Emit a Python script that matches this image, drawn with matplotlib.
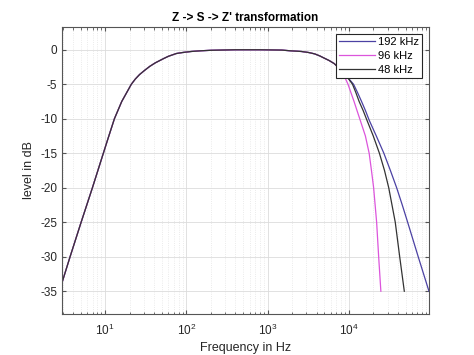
import numpy as np
import matplotlib
matplotlib.use("Agg")
import matplotlib.pyplot as plt
from matplotlib.ticker import LogLocator, NullFormatter

plt.rcParams['font.family'] = ['Liberation Sans', 'DejaVu Sans']
plt.rcParams['axes.unicode_minus'] = False

# shared part of the response (identical for all rates)
f_common = [2.9, 3.7, 5.06, 6.97, 9.5, 11.1, 13.0, 16.0, 21.0, 23.5, 26.5,
            30.5, 35.5, 41.4, 52, 60, 75, 90, 115, 150, 200, 400, 800, 1500,
            1900, 2600, 3200, 3800, 4400, 4950, 5700, 6600, 7640]
db_common = [-34.0, -30, -25, -20, -15, -12.5, -10, -7.5, -5, -4.25, -3.6,
             -3.0, -2.4, -1.9, -1.3, -0.95, -0.55, -0.4, -0.25, -0.15, -0.08,
             0, 0, -0.05, -0.15, -0.25, -0.4, -0.6, -0.9, -1.2, -1.55, -2.0,
             -2.7]

# high-frequency rolloff per sample rate
f_192 = [8750, 10000, 11430, 12800, 14350, 16000, 17800, 21800, 27000, 32500,
         38800, 45500, 53000, 71500, 97000]
db_192 = [-3.5, -4.2, -5, -6.2, -7.5, -8.8, -10.2, -12.5, -15, -17.5, -20,
          -22.5, -25, -30, -35]
f_96 = [8550, 9100, 9770, 10600, 11600, 12600, 13800, 16000, 17800, 19000,
        20200, 22000, 23300, 24800]
db_96 = [-3.5, -4.2, -5, -6.2, -7.5, -8.8, -10.2, -12.5, -15, -17.5, -20,
         -25, -30, -35]
f_48 = [8750, 9900, 11100, 12200, 13400, 15000, 16700, 20000, 23800, 27500,
        31000, 37300, 42300, 48200]
db_48 = [-3.5, -4.2, -5, -6.2, -7.5, -8.8, -10.2, -12.5, -15, -17.5, -20,
         -25, -30, -35]

labels = ["192 kHz", "96 kHz", "48 kHz"]
colors = ["#4b41a3", "#dc55dc", "#333333"]

fig = plt.figure(figsize=(4.74, 3.55), dpi=100)
ax = fig.add_axes([0.131, 0.1155, 0.774, 0.8085])

for f, db, lab, c in zip([f_192, f_96, f_48], [db_192, db_96, db_48], labels, colors):
    ax.semilogx(f_common + f, db_common + db, color=c, lw=0.9, label=lab)

ax.set_xlim(2.95, 97000)
ax.set_ylim(-38.3, 3.3)
ax.set_yticks(np.arange(-35, 1, 5))
ax.xaxis.set_major_locator(LogLocator(base=10, numticks=10))
ax.xaxis.set_minor_locator(LogLocator(base=10, subs=np.arange(2, 10), numticks=20))
ax.xaxis.set_minor_formatter(NullFormatter())

ax.grid(True, which='major', color='#dcdcdc', lw=0.6)
ax.grid(True, which='minor', axis='x', color='#e4e4e4', lw=0.6, ls=':')
ax.set_axisbelow(True)

for s in ax.spines.values():
    s.set_color('#555555')
    s.set_linewidth(0.8)
ax.tick_params(which='both', direction='in', top=True, right=True,
               colors='#555555', labelcolor='#262626', labelsize=8.5)
ax.tick_params(which='major', length=3)
ax.tick_params(which='minor', length=1.8)
ax.tick_params(axis='x', which='major', pad=6)

ax.set_title("Z -> S -> Z' transformation", fontsize=8.5, fontweight='bold', pad=4)
ax.set_xlabel("Frequency in Hz", fontsize=9, color='#262626', labelpad=3)
ax.set_ylabel("level in dB", fontsize=9, color='#262626')

leg = ax.legend(loc='upper right', fontsize=8, handlelength=3.2, fancybox=False,
                framealpha=1, edgecolor='#262626', borderaxespad=0.6,
                labelspacing=0.35, handletextpad=0.3, borderpad=0.3)
leg.get_frame().set_linewidth(0.8)

fig.savefig("out.png", dpi=100)
